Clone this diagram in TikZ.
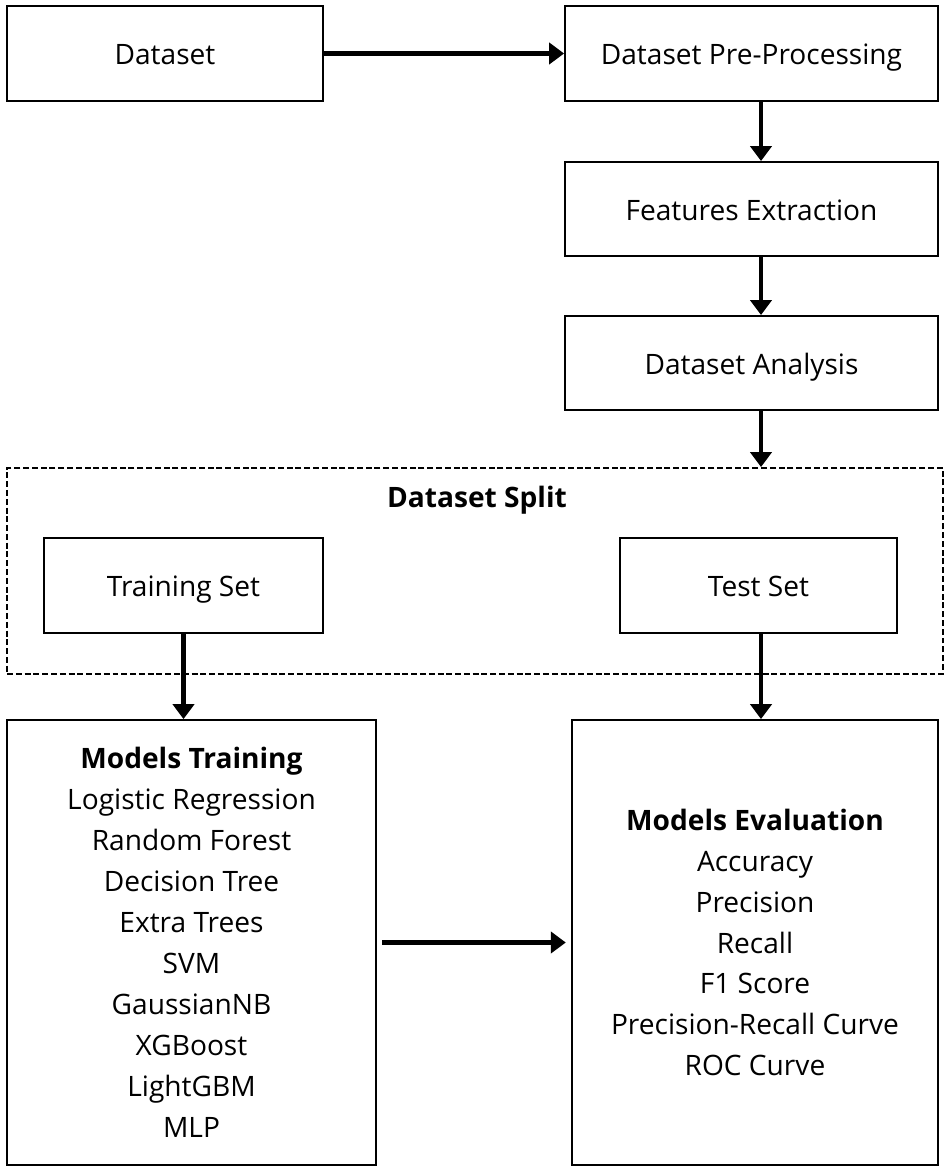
\documentclass[tikz,border=0pt]{standalone}
\usepackage{fontspec}
\setmainfont{Open Sans}
\usetikzlibrary{arrows.meta}
\begin{document}
\begin{tikzpicture}[x=0.02cm,y=-0.02cm,
  box/.style={draw,line width=1.1pt,inner sep=0pt,align=center,font=\fontsize{16}{23.3}\selectfont},
  onebox/.style={box,text height=13pt,text depth=0pt},
  arr/.style={line width=2.7pt,-{Triangle[length=8.5pt,width=12pt]}}]
  % page
  \useasboundingbox[fill=white] (0,0) rectangle (950,1172);
  % top row and right column
  \node[onebox,minimum width=6.32cm,minimum height=1.90cm] (data) at (165,53.5) {Dataset};
  \node[onebox,minimum width=7.46cm,minimum height=1.90cm] (prep) at (751.5,53.5) {Dataset Pre-Processing};
  \node[onebox,minimum width=7.46cm,minimum height=1.88cm] (feat) at (751.5,209) {Features Extraction};
  \node[onebox,minimum width=7.46cm,minimum height=1.88cm] (anal) at (751.5,363) {Dataset Analysis};
  \coordinate (spine) at (761,0);
  % split
  \node[draw,line width=1.1pt,dash pattern=on 3.4pt off 1.6pt,minimum width=18.72cm,minimum height=4.12cm] (split) at (475,571) {};
  \node[font=\fontsize{16}{23.3}\selectfont\bfseries] (splitlbl) at (477,500) {Dataset Split};
  \node[onebox,minimum width=5.58cm,minimum height=1.90cm] (train) at (183.5,585.5) {Training Set};
  \node[onebox,minimum width=5.54cm,minimum height=1.90cm] (test) at (758.5,585.5) {Test Set};
  % models
  \node[box,minimum width=7.38cm,minimum height=8.90cm] (mtrain) at (191.5,942.5) {\textbf{Models Training}\\Logistic Regression\\Random Forest\\Decision Tree\\Extra Trees\\SVM\\GaussianNB\\XGBoost\\LightGBM\\MLP};
  \node[box,minimum width=7.32cm,minimum height=8.90cm] (meval) at (755,942.5) {\textbf{Models Evaluation}\\Accuracy\\Precision\\Recall\\F1 Score\\Precision-Recall Curve\\ROC Curve};
  % arrows
  \draw[arr] (data) -- (prep);
  \foreach \a/\b in {prep/feat, feat/anal, anal/split, test/meval}
    \draw[arr] (\a.south -| spine) -- (\b.north -| spine);
  \draw[arr] (train.south) -- (train.south |- mtrain.north);
  \draw[arr,shorten <=3pt,shorten >=3pt] (mtrain) -- (meval);
\end{tikzpicture}
\end{document}
